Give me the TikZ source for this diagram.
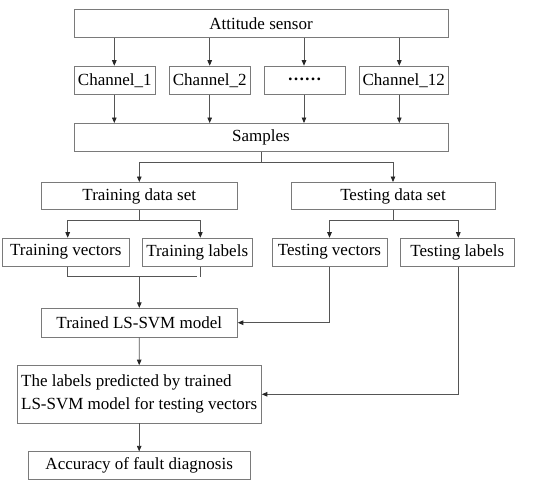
\documentclass[tikz,border=0pt]{standalone}
\usepackage{fontspec}
\setmainfont{Liberation Serif}
\usetikzlibrary{arrows.meta,calc}
\definecolor{boxc}{HTML}{7A7A7A}
\definecolor{linec}{HTML}{555555}
\begin{document}
\begin{tikzpicture}[x=1pt,y=-1pt,
  box/.style={draw=boxc,line width=0.9pt,rectangle,inner sep=0pt,font=\fontsize{17}{23}\selectfont,minimum height=28pt},
  conn/.style={draw=linec,line width=0.8pt},
  arr/.style={conn,-{Triangle[length=5.5pt,width=4.5pt,color=black!85]}}]
\useasboundingbox (0,0) rectangle (550,487);
\node[box,minimum width=374pt] (att) at (261,23.3) {Attitude sensor};
\node[box,minimum width=81.7pt] (ch1) at (114.8,80.2) {Channel\_1};
\node[box,minimum width=81.3pt] (ch2) at (209.7,80.2) {Channel\_2};
\node[box,minimum width=81.3pt] (dots) at (304.7,80.2) {\vphantom{Channel\_}\raisebox{5pt}{\textbf{……}}};
\node[box,minimum width=89.3pt] (ch12) at (403.7,80.2) {Channel\_12};
\node[box,minimum width=374pt] (smp) at (261,137.5) {Samples};
\node[box,minimum width=196pt,minimum height=27pt] (train) at (139.3,196) {Training data set};
\node[box,minimum width=204pt,minimum height=27pt] (test) at (393,196) {Testing data set};
\node[box,minimum width=126.3pt] (tv) at (65.8,252.2) {Training vectors};
\node[box,minimum width=109.7pt] (tl) at (197.2,252.2) {Training labels};
\node[box,minimum width=115pt] (sv) at (329.5,252.2) {Testing vectors};
\node[box,minimum width=114pt] (sl) at (457.3,252.2) {Testing labels};
\node[box,minimum width=196pt,minimum height=28.7pt] (model) at (139.3,322.7) {Trained LS-SVM model};
\node[box,minimum width=244.3pt,minimum height=57.3pt,align=left] (pred) at (139.2,394.3) {The labels predicted by trained\\LS-SVM model for testing vectors};
\node[box,minimum width=222.3pt] (acc) at (139.2,465.8) {Accuracy of fault diagnosis};
% sensor to channels
\draw[arr] ([xshift=-0.5pt]att.south -| ch1.south) -- ([xshift=-0.5pt]ch1.north);
\draw[arr] (att.south -| ch2.south) -- (ch2.north);
\draw[arr] ([xshift=-0.7pt]att.south -| dots.south) -- ([xshift=-0.7pt]dots.north);
\draw[arr] ([xshift=-4.4pt]att.south -| ch12.south) -- ([xshift=-4.4pt]ch12.north);
% channels to samples
\draw[arr] ([xshift=-0.5pt]ch1.south) -- ([xshift=-0.5pt]smp.north -| ch1.south);
\draw[arr] (ch2.south) -- (smp.north -| ch2.south);
\draw[arr] ([xshift=-0.7pt]dots.south) -- ([xshift=-0.7pt]smp.north -| dots.south);
\draw[arr] ([xshift=-4.4pt]ch12.south) -- ([xshift=-4.4pt]smp.north -| ch12.south);
% samples to data sets
\coordinate (b1) at ($(smp.south)+(0,10.5)$);
\draw[conn] (smp.south) -- (b1);
\draw[arr] (b1) -| (train.north);
\draw[arr] (b1) -| (test.north);
% training set branch
\coordinate (b2) at ($(train.south)+(0,10.7)$);
\draw[conn] (train.south) -- (b2);
\draw[arr] (b2) -| ([xshift=1.9pt]tv.north);
\draw[arr] (b2) -| ([xshift=3.1pt]tl.north);
% testing set branch
\coordinate (b3) at ($(test.south)+(0,10.7)$);
\draw[conn] (test.south) -- (b3);
\draw[arr] (b3) -| (sv.north);
\draw[arr] (b3) -| ([xshift=1pt]sl.north);
% merge to model
\coordinate (m1) at ($(tv.south)+(1.9,10)$);
\draw[conn] ([xshift=1.9pt]tv.south) -- (m1) -- (m1 -| tl.south) ++(3.1,0) -- ([xshift=3.1pt]tl.south);
\coordinate (m2) at (m1 -| model.north);
\draw[arr] (m2) -- (model.north);
% testing vectors to model
\draw[arr] (sv.south) |- (model.east);
% model to prediction
\draw[arr] (model.south) -- (pred.north);
% testing labels to prediction
\draw[arr] ([xshift=1pt]sl.south) |- (pred.east);
% prediction to accuracy
\draw[arr] (pred.south) -- (acc.north);
\end{tikzpicture}
\end{document}
